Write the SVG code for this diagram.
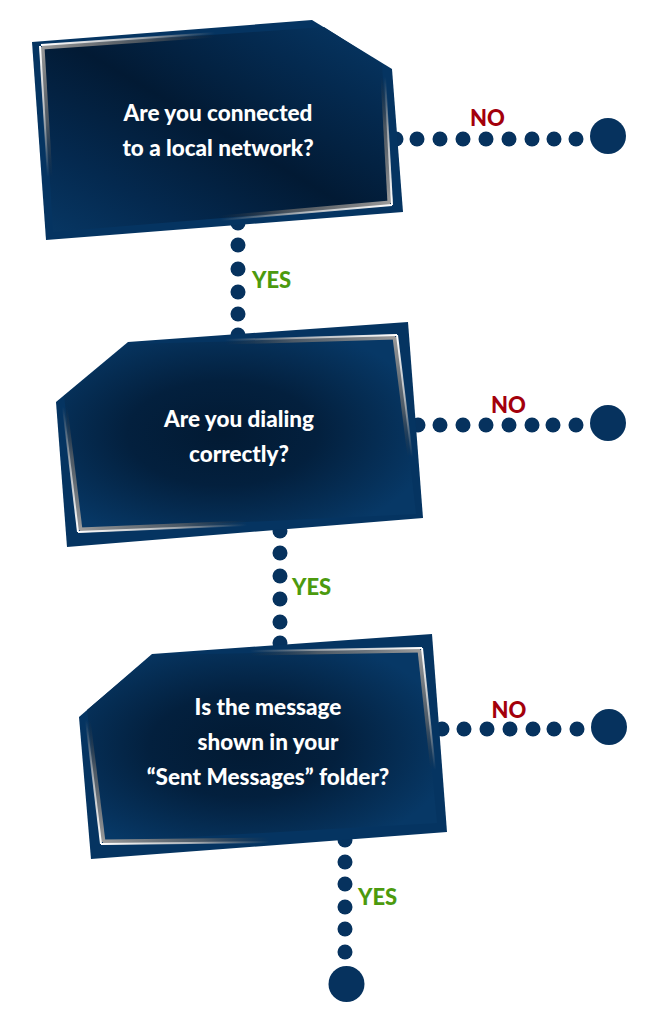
<svg xmlns="http://www.w3.org/2000/svg" width="653" height="1024" viewBox="0 0 653 1024">
<defs>
<style>
.frame{fill:#053461}
.dot{fill:#06325e}
.q{font-family:Lato,"Open Sans","Liberation Sans",sans-serif;font-weight:900;font-size:22.5px;fill:#ffffff;text-anchor:middle}
.no{font-family:Lato,"Open Sans","Liberation Sans",sans-serif;font-weight:900;font-size:22px;fill:#a3000b;text-anchor:middle}
.yes{font-family:Lato,"Open Sans","Liberation Sans",sans-serif;font-weight:900;font-size:22px;fill:#4c9a0e}
.hg{fill:none;stroke-width:5;stroke-linecap:butt}
.hw{fill:none;stroke-width:2;stroke-linecap:butt}
</style>
<linearGradient id="g1" x1="0" y1="1" x2="1" y2="0">
<stop offset="0" stop-color="#073764"/>
<stop offset="0.22" stop-color="#04294f"/>
<stop offset="0.5" stop-color="#021a34"/>
<stop offset="0.78" stop-color="#042a50"/>
<stop offset="1" stop-color="#073866"/>
</linearGradient>
<radialGradient id="g2" cx="0.45" cy="0.5" r="0.6">
<stop offset="0" stop-color="#021a33"/>
<stop offset="0.45" stop-color="#03203e"/>
<stop offset="1" stop-color="#073866"/>
</radialGradient>
<linearGradient id="gL" x1="0" y1="0" x2="1" y2="0"><stop offset="0" stop-color="#9a9a9a"/><stop offset="0.6" stop-color="#6a6a6a" stop-opacity="0.7"/><stop offset="1" stop-color="#404040" stop-opacity="0"/></linearGradient>
<linearGradient id="gR" x1="1" y1="0" x2="0" y2="0"><stop offset="0" stop-color="#9a9a9a"/><stop offset="0.6" stop-color="#6a6a6a" stop-opacity="0.7"/><stop offset="1" stop-color="#404040" stop-opacity="0"/></linearGradient>
<linearGradient id="gT" x1="0" y1="0" x2="0" y2="1"><stop offset="0" stop-color="#9a9a9a"/><stop offset="0.6" stop-color="#6a6a6a" stop-opacity="0.7"/><stop offset="1" stop-color="#404040" stop-opacity="0"/></linearGradient>
<linearGradient id="gB" x1="0" y1="1" x2="0" y2="0"><stop offset="0" stop-color="#9a9a9a"/><stop offset="0.6" stop-color="#6a6a6a" stop-opacity="0.7"/><stop offset="1" stop-color="#404040" stop-opacity="0"/></linearGradient>
<linearGradient id="wL" x1="0" y1="0" x2="1" y2="0"><stop offset="0" stop-color="#ffffff"/><stop offset="0.5" stop-color="#e0e0e0" stop-opacity="0.7"/><stop offset="1" stop-color="#c0c0c0" stop-opacity="0"/></linearGradient>
<linearGradient id="wR" x1="1" y1="0" x2="0" y2="0"><stop offset="0" stop-color="#ffffff"/><stop offset="0.5" stop-color="#e0e0e0" stop-opacity="0.7"/><stop offset="1" stop-color="#c0c0c0" stop-opacity="0"/></linearGradient>
<linearGradient id="wT" x1="0" y1="0" x2="0" y2="1"><stop offset="0" stop-color="#ffffff"/><stop offset="0.5" stop-color="#e0e0e0" stop-opacity="0.7"/><stop offset="1" stop-color="#c0c0c0" stop-opacity="0"/></linearGradient>
<linearGradient id="wB" x1="0" y1="1" x2="0" y2="0"><stop offset="0" stop-color="#ffffff"/><stop offset="0.5" stop-color="#e0e0e0" stop-opacity="0.7"/><stop offset="1" stop-color="#c0c0c0" stop-opacity="0"/></linearGradient>
</defs>

<g id="connectors">
  <g id="no1">
    <circle class="dot" cx="396" cy="139" r="7.5"/>
    <circle class="dot" cx="417" cy="139" r="7.5"/>
    <circle class="dot" cx="440" cy="139" r="7.5"/>
    <circle class="dot" cx="463" cy="139" r="7.5"/>
    <circle class="dot" cx="486" cy="139" r="7.5"/>
    <circle class="dot" cx="509" cy="139" r="7.5"/>
    <circle class="dot" cx="532" cy="139" r="7.5"/>
    <circle class="dot" cx="554" cy="139" r="7.5"/>
    <circle class="dot" cx="576" cy="139" r="7.5"/>
    <circle class="dot" cx="608" cy="136" r="18"/>
    <text class="no" x="487.5" y="126">NO</text>
  </g>
  <g id="no2">
    <circle class="dot" cx="418" cy="425" r="7.5"/>
    <circle class="dot" cx="440" cy="425" r="7.5"/>
    <circle class="dot" cx="463" cy="425" r="7.5"/>
    <circle class="dot" cx="486" cy="425" r="7.5"/>
    <circle class="dot" cx="509" cy="425" r="7.5"/>
    <circle class="dot" cx="532" cy="425" r="7.5"/>
    <circle class="dot" cx="553" cy="425" r="7.5"/>
    <circle class="dot" cx="576" cy="425" r="7.5"/>
    <circle class="dot" cx="608" cy="423" r="18"/>
    <text class="no" x="508.5" y="413">NO</text>
  </g>
  <g id="no3">
    <circle class="dot" cx="420" cy="729" r="7.5"/>
    <circle class="dot" cx="442" cy="729" r="7.5"/>
    <circle class="dot" cx="464" cy="729" r="7.5"/>
    <circle class="dot" cx="487" cy="729" r="7.5"/>
    <circle class="dot" cx="510" cy="729" r="7.5"/>
    <circle class="dot" cx="533" cy="729" r="7.5"/>
    <circle class="dot" cx="554" cy="729" r="7.5"/>
    <circle class="dot" cx="577" cy="729" r="7.5"/>
    <circle class="dot" cx="609" cy="727" r="18"/>
    <text class="no" x="509" y="718">NO</text>
  </g>
  <g id="yes1">
    <circle class="dot" cx="238" cy="223" r="7.5"/>
    <circle class="dot" cx="238" cy="245" r="7.5"/>
    <circle class="dot" cx="238" cy="269" r="7.5"/>
    <circle class="dot" cx="238" cy="292" r="7.5"/>
    <circle class="dot" cx="238" cy="314" r="7.5"/>
    <circle class="dot" cx="238" cy="335" r="7.5"/>
    <text class="yes" x="252" y="288">YES</text>
  </g>
  <g id="yes2">
    <circle class="dot" cx="280" cy="531" r="7.5"/>
    <circle class="dot" cx="280" cy="553" r="7.5"/>
    <circle class="dot" cx="280" cy="576" r="7.5"/>
    <circle class="dot" cx="280" cy="599" r="7.5"/>
    <circle class="dot" cx="280" cy="622" r="7.5"/>
    <circle class="dot" cx="280" cy="643" r="7.5"/>
    <text class="yes" x="292" y="595">YES</text>
  </g>
  <g id="yes3">
    <circle class="dot" cx="345" cy="840" r="7.5"/>
    <circle class="dot" cx="345" cy="862" r="7.5"/>
    <circle class="dot" cx="345" cy="884" r="7.5"/>
    <circle class="dot" cx="345" cy="907" r="7.5"/>
    <circle class="dot" cx="345" cy="929" r="7.5"/>
    <circle class="dot" cx="345" cy="952" r="7.5"/>
    <circle class="dot" cx="346.5" cy="984" r="18"/>
    <text class="yes" x="358" y="905">YES</text>
  </g>
</g>

<g id="node1">
  <polygon class="frame" points="32,42 312,20 392,69 403,212 46,240"/>
  <polygon fill="url(#g1)" points="42,47 324,27 382,64 391,204 53,232"/>
  <line class="hg" stroke="url(#gL)" x1="42" y1="47" x2="215" y2="35"/>
  <line class="hw" stroke="url(#wL)" x1="41" y1="45" x2="215" y2="33"/>
  <line class="hg" stroke="url(#gT)" x1="42" y1="47" x2="50" y2="177"/>
  <line class="hw" stroke="url(#wT)" x1="40" y1="46" x2="48" y2="177"/>
  <line class="hg" stroke="url(#gB)" x1="383" y1="77" x2="390" y2="203"/>
  <line class="hw" stroke="url(#wB)" x1="385" y1="77" x2="392" y2="205"/>
  <line class="hg" stroke="url(#gR)" x1="220" y1="218" x2="390" y2="203"/>
  <line class="hw" stroke="url(#wR)" x1="220" y1="220" x2="392" y2="205"/>
  <text class="q" x="218" y="121">Are you connected</text>
  <text class="q" x="218" y="156">to a local network?</text>
</g>

<g id="node2">
  <polygon class="frame" points="128,342 408,322 423,518 67,547 56,402"/>
  <polygon fill="url(#g2)" points="127,344 395,337 416,514 80,530 64,396"/>
  <line class="hg" stroke="url(#gR)" x1="225" y1="342" x2="395" y2="337"/>
  <line class="hw" stroke="url(#wR)" x1="225" y1="340" x2="397" y2="335"/>
  <line class="hg" stroke="url(#gT)" x1="395" y1="337" x2="410" y2="457"/>
  <line class="hw" stroke="url(#wT)" x1="397" y1="335" x2="412" y2="457"/>
  <line class="hg" stroke="url(#gB)" x1="65" y1="407" x2="80" y2="530"/>
  <line class="hw" stroke="url(#wB)" x1="63" y1="407" x2="78" y2="532"/>
  <line class="hg" stroke="url(#gL)" x1="80" y1="530" x2="247" y2="523"/>
  <line class="hw" stroke="url(#wL)" x1="78" y1="532" x2="247" y2="525"/>
  <text class="q" x="239" y="427">Are you dialing</text>
  <text class="q" x="239" y="462">correctly?</text>
</g>

<g id="node3">
  <polygon class="frame" points="152,654 432,634 447,832 91,859 79,717"/>
  <polygon fill="url(#g2)" points="152,655 420,650 437,823 103,842 87,710"/>
  <line class="hg" stroke="url(#gR)" x1="250" y1="653" x2="420" y2="650"/>
  <line class="hw" stroke="url(#wR)" x1="250" y1="651" x2="422" y2="648"/>
  <line class="hg" stroke="url(#gT)" x1="420" y1="650" x2="433" y2="770"/>
  <line class="hw" stroke="url(#wT)" x1="422" y1="648" x2="435" y2="770"/>
  <line class="hg" stroke="url(#gB)" x1="88" y1="720" x2="103" y2="842"/>
  <line class="hw" stroke="url(#wB)" x1="86" y1="720" x2="101" y2="844"/>
  <line class="hg" stroke="url(#gL)" x1="103" y1="842" x2="270" y2="840"/>
  <line class="hw" stroke="url(#wL)" x1="101" y1="844" x2="270" y2="842"/>
  <text class="q" x="268" y="715">Is the message</text>
  <text class="q" x="268" y="750">shown in your</text>
  <text class="q" x="268" y="785">“Sent Messages” folder?</text>
</g>
</svg>
